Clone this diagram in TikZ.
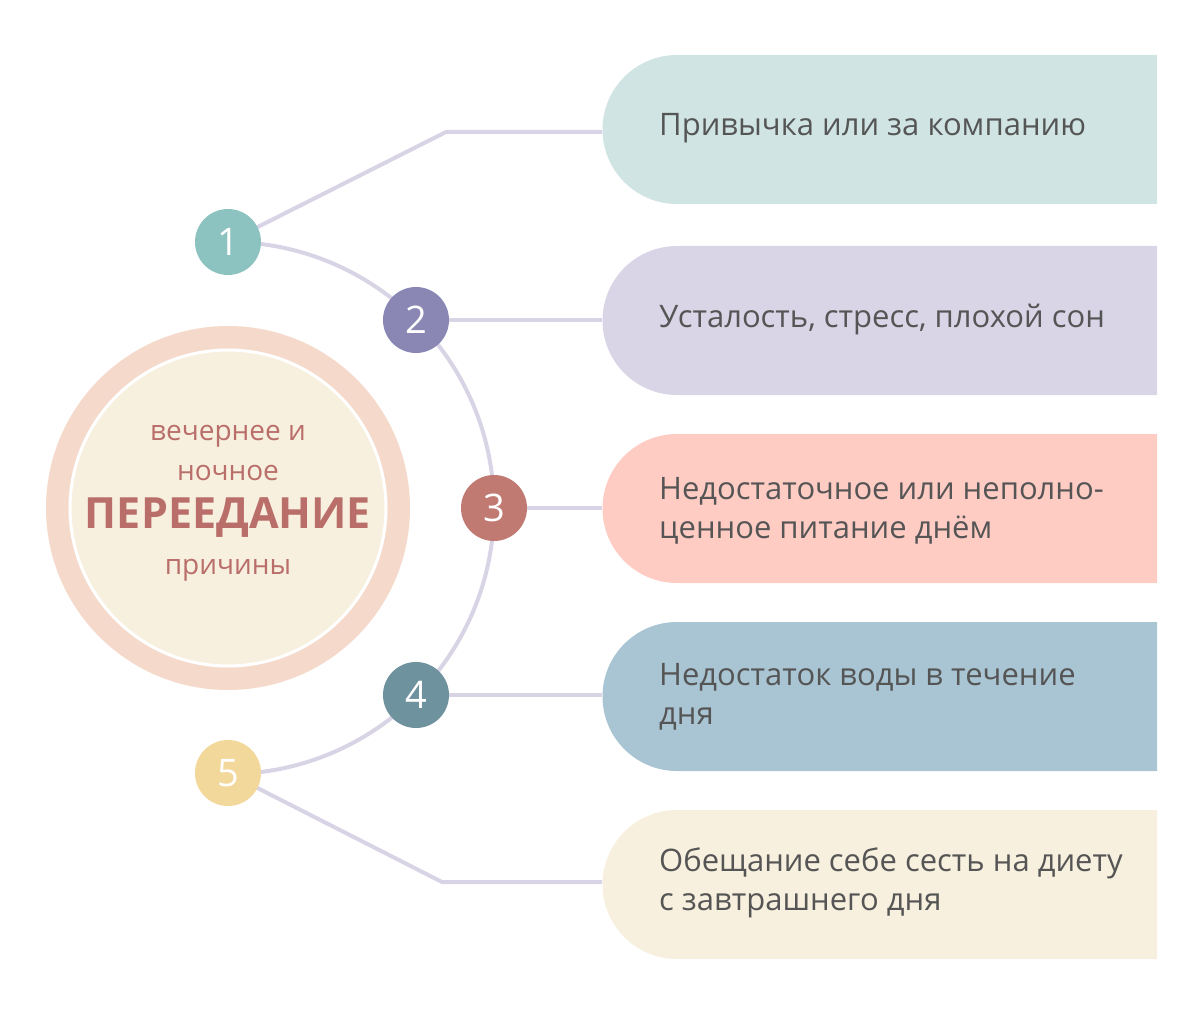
\documentclass[tikz,border=0pt]{standalone}
\usepackage{fontspec}
\setmainfont{Open Sans}
\usetikzlibrary{positioning}
\definecolor{linec}{HTML}{D8D4E6}
\definecolor{txtc}{HTML}{555555}
\definecolor{redc}{HTML}{B96E6A}
\definecolor{ringc}{HTML}{F5D9CB}
\definecolor{corec}{HTML}{F8F0DF}
\definecolor{cA}{HTML}{8CC3C0}
\definecolor{cB}{HTML}{8A87B5}
\definecolor{cC}{HTML}{C17A72}
\definecolor{cD}{HTML}{6E929E}
\definecolor{cE}{HTML}{F2D89A}
\definecolor{bA}{HTML}{CFE4E3}
\definecolor{bB}{HTML}{D9D5E6}
\definecolor{bC}{HTML}{FFCCC4}
\definecolor{bD}{HTML}{A9C5D3}
\definecolor{bE}{HTML}{F8F0DE}
\tikzset{
  num/.style={circle, minimum size=66pt, inner sep=0pt, text=white,
    font=\fontsize{38}{40}\selectfont},
  link/.style={draw=linec, line width=4pt},
  label/.style={anchor=west, align=left, text=txtc, inner sep=0pt,
    font=\fontsize{31}{39}\selectfont},
}
\begin{document}
\begin{tikzpicture}[x=1pt, y=-1pt]
    \useasboundingbox (0,0) rectangle (1200,1016);
    % central circle
    \fill[ringc] (228,508) circle (182);
    \draw[fill=corec, draw=white, line width=3pt] (228,508) circle (158);
    \node[text=redc, font=\fontsize{28}{30}\selectfont] (t1) at (228,436) {вечернее и};
    \node[text=redc, font=\fontsize{28}{30}\selectfont] (t2) at (228,473) {ночное};
    \node[text=redc, font=\fontsize{43}{46}\bfseries\selectfont] (t3) at (228,518) {ПЕРЕЕДАНИЕ};
    \node[text=redc, font=\fontsize{28}{30}\selectfont] (t4) at (228,570) {причины};
    % boxes
    \foreach \c/\y in {bA/55, bB/246, bC/434, bD/622, bE/810}
        \fill[\c] (1157,\y) -- (677,\y) arc (-90:-270:74.5) -- (1157,\y+149) -- cycle;
    \coordinate (b1) at (602,132);
    \coordinate (b2) at (602,320);
    \coordinate (b3) at (602,508);
    \coordinate (b4) at (602,695);
    \coordinate (b5) at (602,882);
    \coordinate (k1) at (446,132);
    \coordinate (k5) at (442,882);
    % numbers
    \node[num] (n1) at (228,242) {};
    \node[num] (n2) at (416,320) {};
    \node[num] (n3) at (494,508) {};
    \node[num] (n4) at (416,695) {};
    \node[num] (n5) at (228,773) {};
    % connectors
    \draw[link] (n1.center) arc (-90:90:266);
    \draw[link] (n1.center) -- (k1) -- (b1);
    \draw[link] (n2.center) -- (b2);
    \draw[link] (n3.center) -- (b3);
    \draw[link] (n4.center) -- (b4);
    \draw[link] (n5.center) -- (k5) -- (b5);
    \foreach \n/\c in {1/cA, 2/cB, 3/cC, 4/cD, 5/cE}
        \node[num, fill=\c] at (n\n) {\n};
    % labels
    \node[label] (l1) at (659,128) {Привычка или за компанию};
    \node[label] (l2) at (659,320) {Усталость, стресс, плохой сон};
    \node[label] (l3) at (659,511) {Недостаточное или неполно-\\ценное питание днём};
    \node[label] (l4) at (659,697) {Недостаток воды в течение\\дня};
    \node[label] (l5) at (659,883) {Обещание себе сесть на диету\\с завтрашнего дня};
\end{tikzpicture}
\end{document}
